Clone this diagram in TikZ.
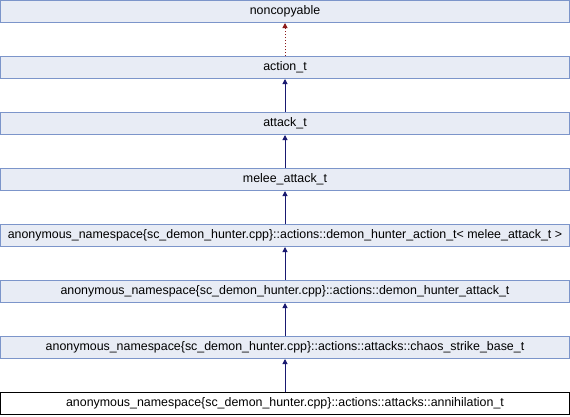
\documentclass[tikz,border=0pt]{standalone}
\usepackage{fontspec}
\setmainfont{Liberation Sans}
\usetikzlibrary{arrows.meta}
\definecolor{boxfill}{HTML}{E8ECF5}
\definecolor{boxline}{HTML}{7C95CA}
\definecolor{inhline}{HTML}{191970}
\definecolor{usedline}{HTML}{8B1A1A}
\begin{document}
\begin{tikzpicture}[x=1bp, y=-1bp, >={Triangle[length=5bp,width=5bp]},
  cls/.style={draw=boxline, fill=boxfill, line width=1bp, minimum width=568bp, minimum height=22bp, inner sep=0pt,
    font=\fontsize{12.45}{14}\selectfont},
  leaf/.style={cls, draw=black, fill=white},
  inh/.style={->, inhline, line width=1bp}]
\useasboundingbox (0,0) rectangle (570,416);
\node[cls] (a) at (285,11.5) {noncopyable};
\node[cls] (b) at (285,67.5) {action\_t};
\node[cls] (c) at (285,123.5) {attack\_t};
\node[cls] (d) at (285,179.5) {melee\_attack\_t};
\node[cls] (e) at (285,235.5) {anonymous\_namespace\{sc\_demon\_hunter.cpp\}::actions::demon\_hunter\_action\_t< melee\_attack\_t >};
\node[cls] (f) at (285,291.5) {anonymous\_namespace\{sc\_demon\_hunter.cpp\}::actions::demon\_hunter\_attack\_t};
\node[cls] (g) at (285,347.5) {anonymous\_namespace\{sc\_demon\_hunter.cpp\}::actions::attacks::chaos\_strike\_base\_t};
\node[leaf] (h) at (285,403.5) {anonymous\_namespace\{sc\_demon\_hunter.cpp\}::actions::attacks::annihilation\_t};
\draw[->, usedline, dotted, line width=1bp] (b) -- (a);
\draw[inh] (c) -- (b);
\draw[inh] (d) -- (c);
\draw[inh] (e) -- (d);
\draw[inh] (f) -- (e);
\draw[inh] (g) -- (f);
\draw[inh] (h) -- (g);
\end{tikzpicture}
\end{document}
